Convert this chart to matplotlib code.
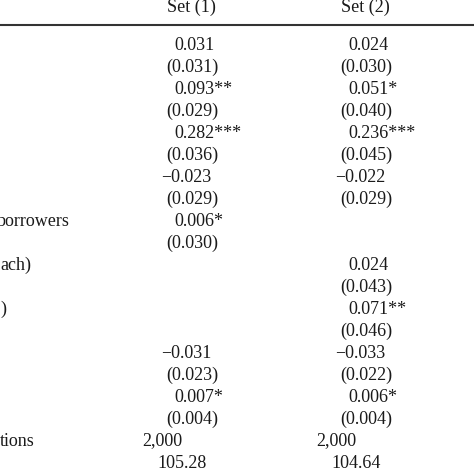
import matplotlib.pyplot as plt

plt.rcParams['font.family'] = ['Liberation Serif', 'DejaVu Serif']

headers = ['Set (1)', 'Set (2)']
labels = ['', '', '', '', '', '', '', '', 'borrowers', '', 'ach)', '', ')', '', '', '', '', '', 'tions', '']
set1 = ['0.031', '(0.031)', '0.093**', '(0.029)', '0.282***', '(0.036)', '\u22120.023', '(0.029)',
        '0.006*', '(0.030)', '', '', '', '', '\u22120.031', '(0.023)', '0.007*', '(0.004)', '2,000', '105.28']
set2 = ['0.024', '(0.030)', '0.051*', '(0.040)', '0.236***', '(0.045)', '\u22120.022', '(0.029)',
        '', '', '0.024', '(0.043)', '0.071**', '(0.046)', '\u22120.033', '(0.022)', '0.006*', '(0.004)', '2,000', '104.64']

fig = plt.figure(figsize=(4.74, 4.74), dpi=100)
ax = fig.add_axes([0, 0, 1, 1])
ax.set_xlim(0, 474)
ax.set_ylim(474, 0)
ax.axis('off')

fs = 13
col = '#1a1a1a'


def xpos(s, base):
    # numbers aligned at the digit; parens, minus and counts shift left
    if s.startswith('('):
        return base - 8
    if s.startswith('\u2212'):
        return base - 13
    if s == '2,000':
        return base - 32
    if s.startswith('10'):
        return base - 17
    return base


ax.text(167, 7, headers[0], fontsize=fs, color=col, va='center')
ax.text(341, 7, headers[1], fontsize=fs, color=col, va='center')
ax.plot([0, 474], [25, 25], color='#333333', lw=1.5)

for i in range(len(set1)):
    y = 45 + 22 * i
    if labels[i]:
        ax.text(-3 if labels[i] == 'borrowers' else 0, y, labels[i], fontsize=fs, color=col, va='center')
    if set1[i]:
        ax.text(xpos(set1[i], 174), y, set1[i], fontsize=fs, color=col, va='center')
    if set2[i]:
        ax.text(xpos(set2[i], 348), y, set2[i], fontsize=fs, color=col, va='center')

fig.savefig('out.png', dpi=100)
